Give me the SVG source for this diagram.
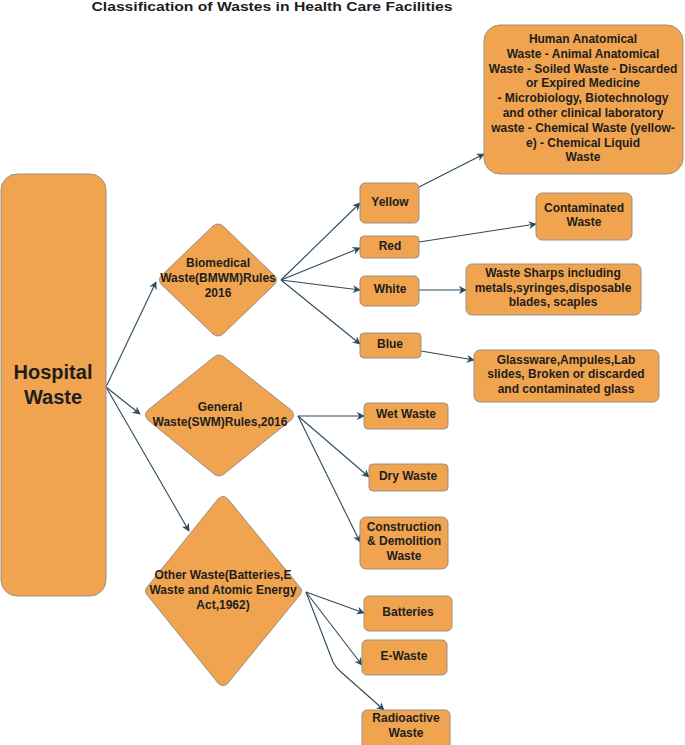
<svg xmlns="http://www.w3.org/2000/svg" width="685" height="745" viewBox="0 0 685 745">
<defs>
<style>
.n{fill:#F0A44F;stroke:#9a8f84;stroke-width:1}
.t{font-family:"Liberation Sans",Arial,sans-serif;font-size:12px;font-weight:bold;fill:#1e1e1e;text-anchor:middle}
.big{font-size:20px}
.c{fill:none;stroke:#2b4a5f;stroke-width:1.1}
</style>
<marker id="a" viewBox="0 0 10 10" refX="9" refY="5" markerWidth="8" markerHeight="8" markerUnits="userSpaceOnUse" orient="auto">
<path d="M0,0 L10,5 L0,10 L3,5 Z" fill="#2b4a5f"/>
</marker>
</defs>
<rect width="685" height="745" fill="#ffffff"/>
<text x="272" y="11" font-family="Liberation Sans,Arial,sans-serif" font-size="12" font-weight="bold" fill="#1e1e1e" text-anchor="middle" textLength="361" lengthAdjust="spacingAndGlyphs">Classification of Wastes in Health Care Facilities</text>

<g id="connectors">
<path class="c" marker-end="url(#a)" d="M106,387 L156,282"/>
<path class="c" marker-end="url(#a)" d="M106,387 L140,414"/>
<path class="c" marker-end="url(#a)" d="M106,387 L189,531"/>
<path class="c" marker-end="url(#a)" d="M281,280 L360,203"/>
<path class="c" marker-end="url(#a)" d="M281,280 L360,248"/>
<path class="c" marker-end="url(#a)" d="M281,280 L360,290"/>
<path class="c" marker-end="url(#a)" d="M281,280 L360,344"/>
<path class="c" marker-end="url(#a)" d="M419,187 L484,154"/>
<path class="c" marker-end="url(#a)" d="M419,242 L536,224"/>
<path class="c" marker-end="url(#a)" d="M419,290 L466,290"/>
<path class="c" marker-end="url(#a)" d="M421,351 L474,360"/>
<path class="c" marker-end="url(#a)" d="M298,416 L364,416"/>
<path class="c" marker-end="url(#a)" d="M298,416 L369,477"/>
<path class="c" marker-end="url(#a)" d="M298,416 L360,542"/>
<path class="c" marker-end="url(#a)" d="M306,592 L364,613"/>
<path class="c" marker-end="url(#a)" d="M306,592 L362,665"/>
<path class="c" marker-end="url(#a)" d="M306,592 L333,662 Q336,668 341,672 L384,710"/>
</g>

<g id="hospital">
<rect class="n" x="1" y="174" width="105" height="422" rx="16"/>
<text class="t big" x="53" y="379">Hospital</text>
<text class="t big" x="53" y="404">Waste</text>
</g>

<g id="biomedical">
<path class="n" d="M213,226 Q218,222 223,226 L274,275 Q279,280 274,285 L223,334 Q218,338 213,334 L162,285 Q157,280 162,275 Z"/>
<text class="t" x="218" y="267">Biomedical</text>
<text class="t" x="218" y="282">Waste(BMWM)Rules</text>
<text class="t" x="218" y="297">2016</text>
</g>

<g id="general">
<path class="n" d="M214,357 Q219,353 224,357 L291,410 Q296,415 291,420 L224,474 Q219,478 214,474 L148,420 Q143,415 148,410 Z"/>
<text class="t" x="220" y="411">General</text>
<text class="t" x="220" y="426">Waste(SWM)Rules,2016</text>
</g>

<g id="other">
<path class="n" d="M218,499 Q223,494 228,499 L299,586 Q304,591 299,596 L228,683 Q223,688 218,683 L148,596 Q143,591 148,586 Z"/>
<text class="t" x="223" y="579">Other Waste(Batteries,E</text>
<text class="t" x="223" y="594">Waste and Atomic Energy</text>
<text class="t" x="223" y="609">Act,1962)</text>
</g>

<g id="yellow">
<rect class="n" x="360" y="183" width="59" height="40" rx="5"/>
<text class="t" x="390" y="206">Yellow</text>
</g>
<g id="red">
<rect class="n" x="360" y="236" width="59" height="22" rx="4"/>
<text class="t" x="390" y="250">Red</text>
</g>
<g id="white">
<rect class="n" x="360" y="276" width="59" height="30" rx="5"/>
<text class="t" x="390" y="293">White</text>
</g>
<g id="blue">
<rect class="n" x="360" y="333" width="61" height="25" rx="4"/>
<text class="t" x="390" y="348">Blue</text>
</g>

<g id="yellow-items">
<rect class="n" x="484" y="25" width="199" height="149" rx="16"/>
<text class="t" x="583" y="43">Human Anatomical</text>
<text class="t" x="583" y="58">Waste - Animal Anatomical</text>
<text class="t" x="583" y="73">Waste - Soiled Waste - Discarded</text>
<text class="t" x="583" y="87">or Expired Medicine</text>
<text class="t" x="583" y="102">- Microbiology, Biotechnology</text>
<text class="t" x="583" y="117">and other clinical laboratory</text>
<text class="t" x="583" y="132">waste  - Chemical Waste (yellow-</text>
<text class="t" x="583" y="147">e) - Chemical Liquid</text>
<text class="t" x="583" y="161">Waste</text>
</g>

<g id="contaminated">
<rect class="n" x="536" y="193" width="96" height="47" rx="6"/>
<text class="t" x="584" y="212">Contaminated</text>
<text class="t" x="584" y="226">Waste</text>
</g>

<g id="sharps">
<rect class="n" x="466" y="264" width="175" height="51" rx="6"/>
<text class="t" x="553" y="277">Waste Sharps including</text>
<text class="t" x="553" y="292">metals,syringes,disposable</text>
<text class="t" x="553" y="306">blades, scaples</text>
</g>

<g id="glassware">
<rect class="n" x="474" y="350" width="185" height="52" rx="6"/>
<text class="t" x="566" y="364">Glassware,Ampules,Lab</text>
<text class="t" x="566" y="378">slides, Broken or discarded</text>
<text class="t" x="566" y="393">and contaminated glass</text>
</g>

<g id="wet">
<rect class="n" x="364" y="403" width="84" height="26" rx="4"/>
<text class="t" x="406" y="418">Wet Waste</text>
</g>
<g id="dry">
<rect class="n" x="369" y="464" width="79" height="27" rx="4"/>
<text class="t" x="408" y="480">Dry Waste</text>
</g>
<g id="construction">
<rect class="n" x="360" y="517" width="88" height="52" rx="6"/>
<text class="t" x="404" y="531">Construction</text>
<text class="t" x="404" y="545">&amp; Demolition</text>
<text class="t" x="404" y="560">Waste</text>
</g>
<g id="batteries">
<rect class="n" x="364" y="596" width="88" height="35" rx="5"/>
<text class="t" x="408" y="616">Batteries</text>
</g>
<g id="ewaste">
<rect class="n" x="362" y="640" width="85" height="35" rx="5"/>
<text class="t" x="404" y="660">E-Waste</text>
</g>
<g id="radioactive">
<rect class="n" x="362" y="710" width="88" height="40" rx="5"/>
<text class="t" x="406" y="722">Radioactive</text>
<text class="t" x="406" y="737">Waste</text>
</g>
</svg>
